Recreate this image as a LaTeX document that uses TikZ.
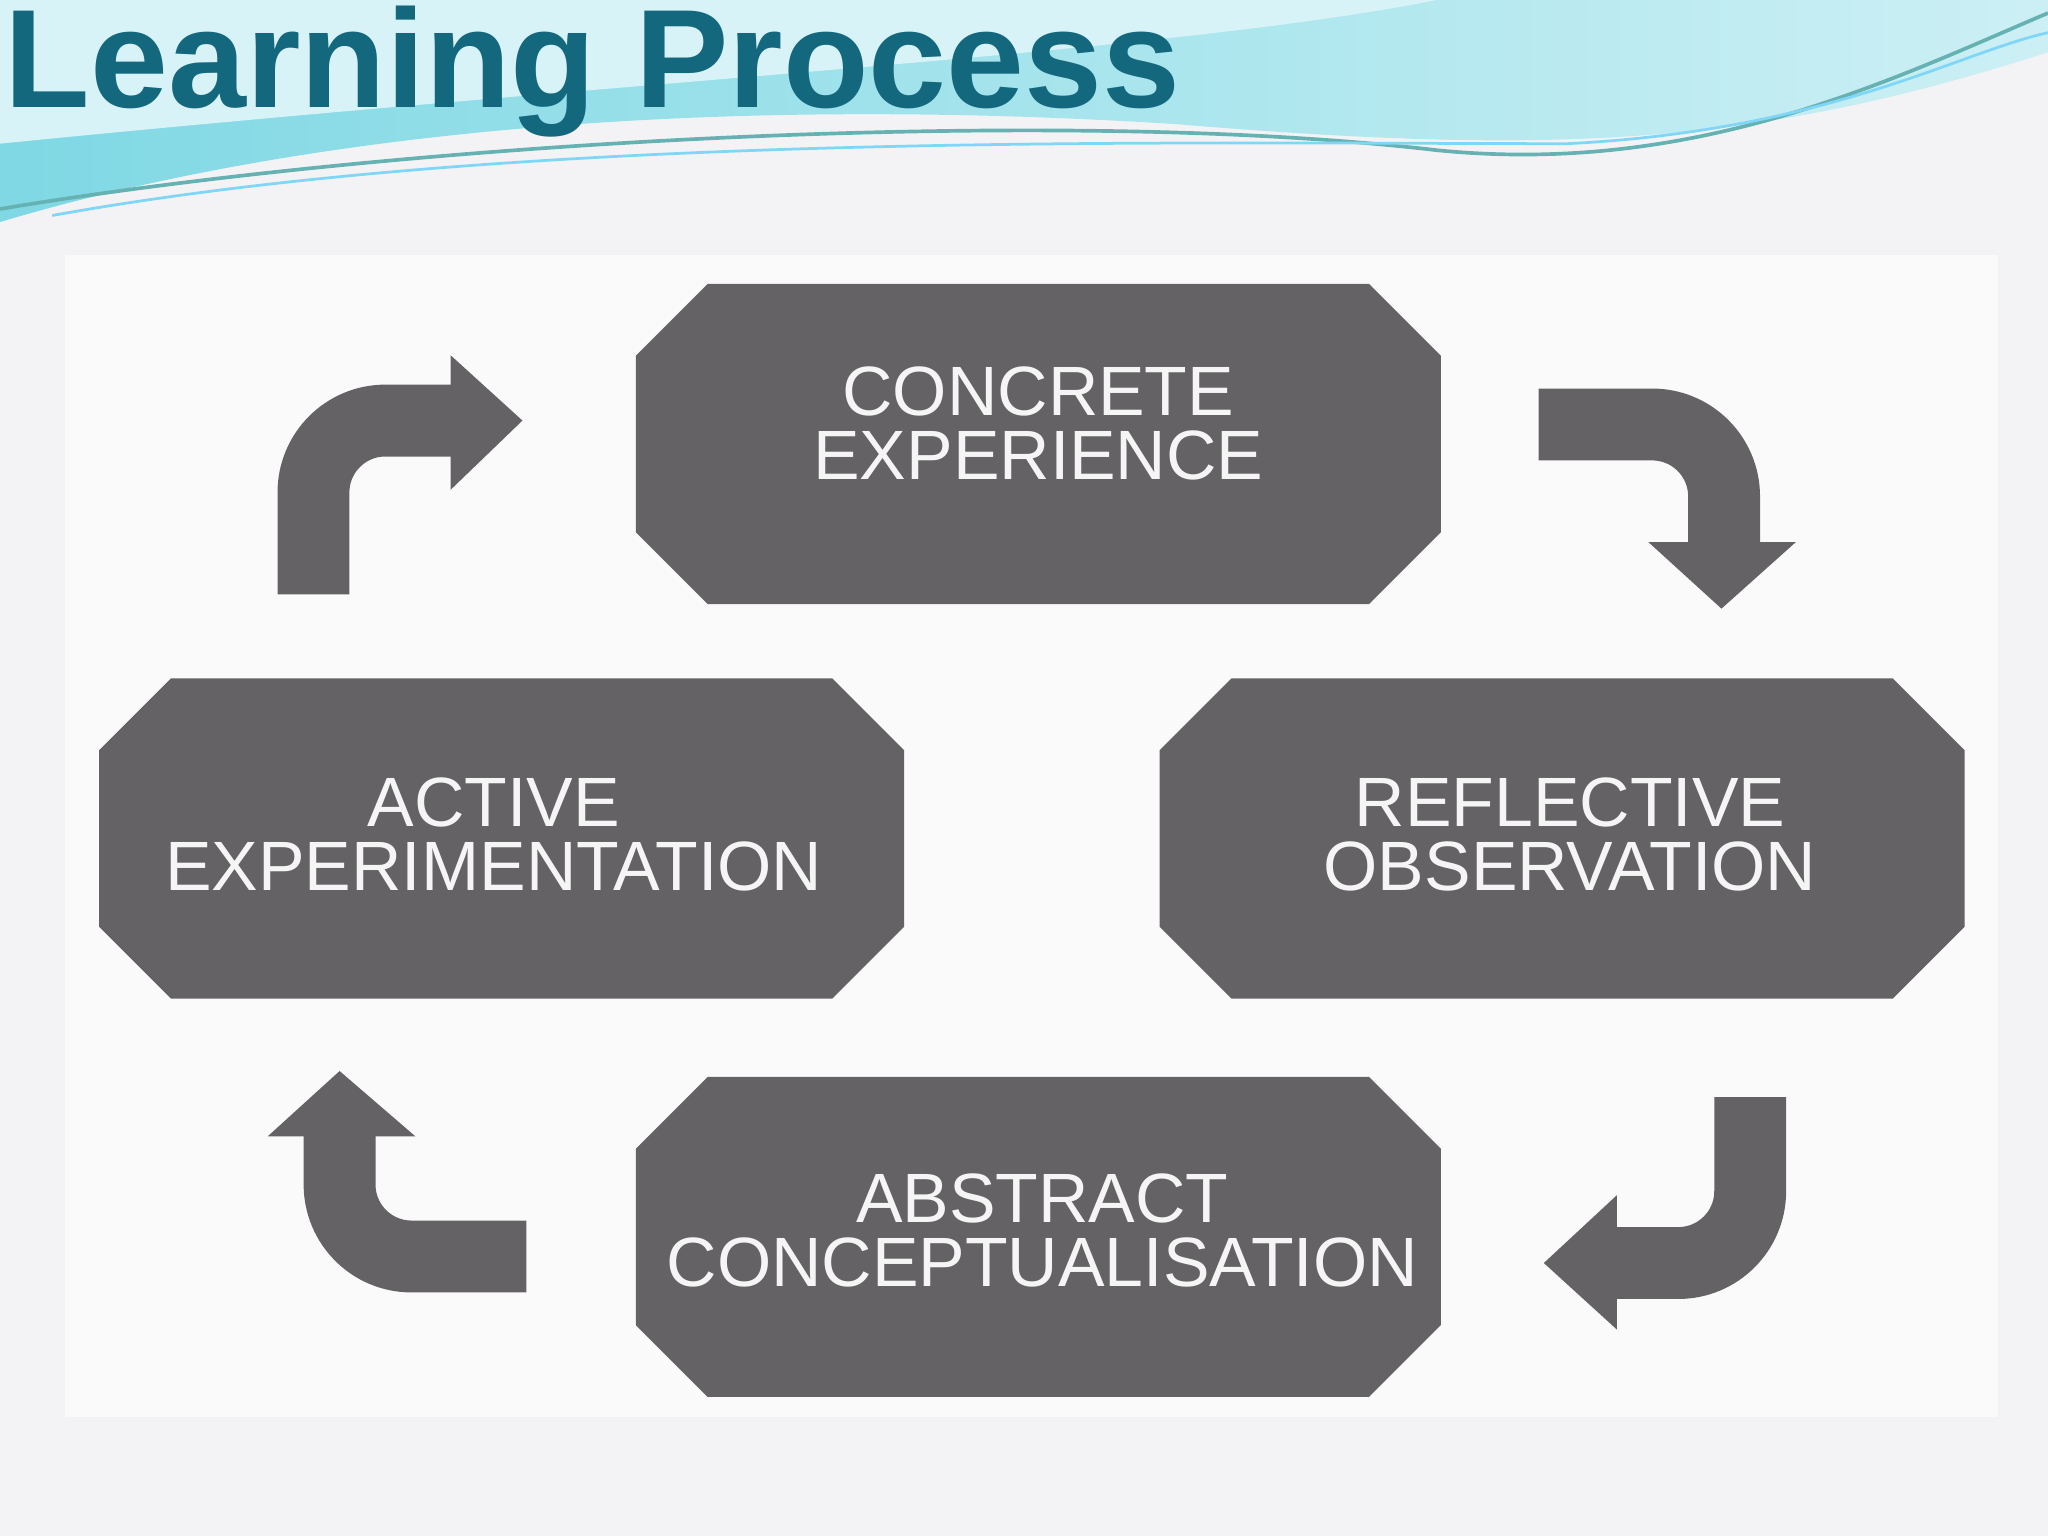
\documentclass[tikz,border=0pt]{standalone}
\usepackage{fontspec}
\setmainfont{Liberation Sans}
\definecolor{boxgray}{HTML}{646264}
\definecolor{titleteal}{HTML}{14687E}
\definecolor{bgpage}{HTML}{F3F3F5}
\definecolor{wavecyan}{HTML}{7FD8E4}
\tikzset{
  stage/.style={rectangle, draw=none, minimum width=6.16cm, minimum height=2.45cm, inner sep=0pt,
    path picture={\fill[boxgray]
      ([xshift=0.55cm]path picture bounding box.north west) -- ([xshift=-0.55cm]path picture bounding box.north east)
      -- ([yshift=-0.55cm]path picture bounding box.north east) -- ([yshift=0.55cm]path picture bounding box.south east)
      -- ([xshift=-0.55cm]path picture bounding box.south east) -- ([xshift=0.55cm]path picture bounding box.south west)
      -- ([yshift=0.55cm]path picture bounding box.south west) -- ([yshift=-0.55cm]path picture bounding box.north west) -- cycle;}},
  stagetext/.style={text=white!92!gray, align=center, font=\fontsize{15.2}{14}\selectfont, inner sep=0pt},
  shaft/.style={draw=boxgray, line width=0.55cm, rounded corners=0.55cm},
  head/.style={fill=boxgray, draw=none}
}
\begin{document}
\begin{tikzpicture}[x=0.01cm,y=-0.01cm]
\useasboundingbox (0,0) rectangle (1568,1176);
\fill[bgpage] (0,0) rectangle (1568,1176);
% wave
\shade[left color=wavecyan, right color=wavecyan!40!white] (0,0) -- (1568,0) -- (1568,40) .. controls (1350,110) and (1200,120) .. (900,95) .. controls (500,70) and (200,110) .. (0,170) -- cycle;
\fill[white!70!wavecyan] (0,0) -- (1100,0) .. controls (900,40) and (500,60) .. (0,110) -- cycle;
\draw[teal!60, line width=0.8pt] (0,160) .. controls (300,110) and (800,80) .. (1100,115) .. controls (1300,135) and (1450,60) .. (1568,10);
\draw[cyan!50, line width=0.6pt] (40,165) .. controls (400,100) and (900,110) .. (1200,110) .. controls (1400,100) and (1500,40) .. (1568,25);
\fill[white!60!bgpage] (50,195) rectangle (1530,1085);
\node[font=\bfseries\fontsize{30.5}{31}\selectfont, text=titleteal, anchor=base west, inner sep=0pt] (title) at (3,82) {Learning Process};
% stages
\node[stage] (ce) at (795,340) {};
\node[stage] (ae) at (384,642) {};
\node[stage] (ro) at (1196,642) {};
\node[stage] (ac) at (795,947) {};
\node[stagetext, anchor=base] (cet) at (795,367) {CONCRETE\\EXPERIENCE};
\node[stagetext, anchor=base] (aet) at (378,682) {ACTIVE\\EXPERIMENTATION};
\node[stagetext, anchor=base] (rot) at (1202,682) {REFLECTIVE\\OBSERVATION};
\node[stagetext, anchor=base] (act) at (798,985) {ABSTRACT\\CONCEPTUALISATION};
% arrows
\coordinate (a1s) at (240,455); \coordinate (a1e) at (347,322);
\draw[shaft] (a1s) -- (240,322) -- (a1e);
\fill[head] (345,272) -- (400,322) -- (345,375) -- cycle;
\coordinate (a2s) at (1178,325); \coordinate (a2e) at (1320,417);
\draw[shaft] (a2s) -- (1320,325) -- (a2e);
\fill[head] (1262,415) -- (1375,415) -- (1318,466) -- cycle;
\coordinate (a3s) at (1340,840); \coordinate (a3e) at (1236,967);
\draw[shaft] (a3s) -- (1340,967) -- (a3e);
\fill[head] (1238,915) -- (1238,1018) -- (1182,967) -- cycle;
\coordinate (a4s) at (403,962); \coordinate (a4e) at (260,868);
\draw[shaft] (a4s) -- (260,962) -- (a4e);
\fill[head] (205,870) -- (318,870) -- (260,820) -- cycle;
\end{tikzpicture}
\end{document}
